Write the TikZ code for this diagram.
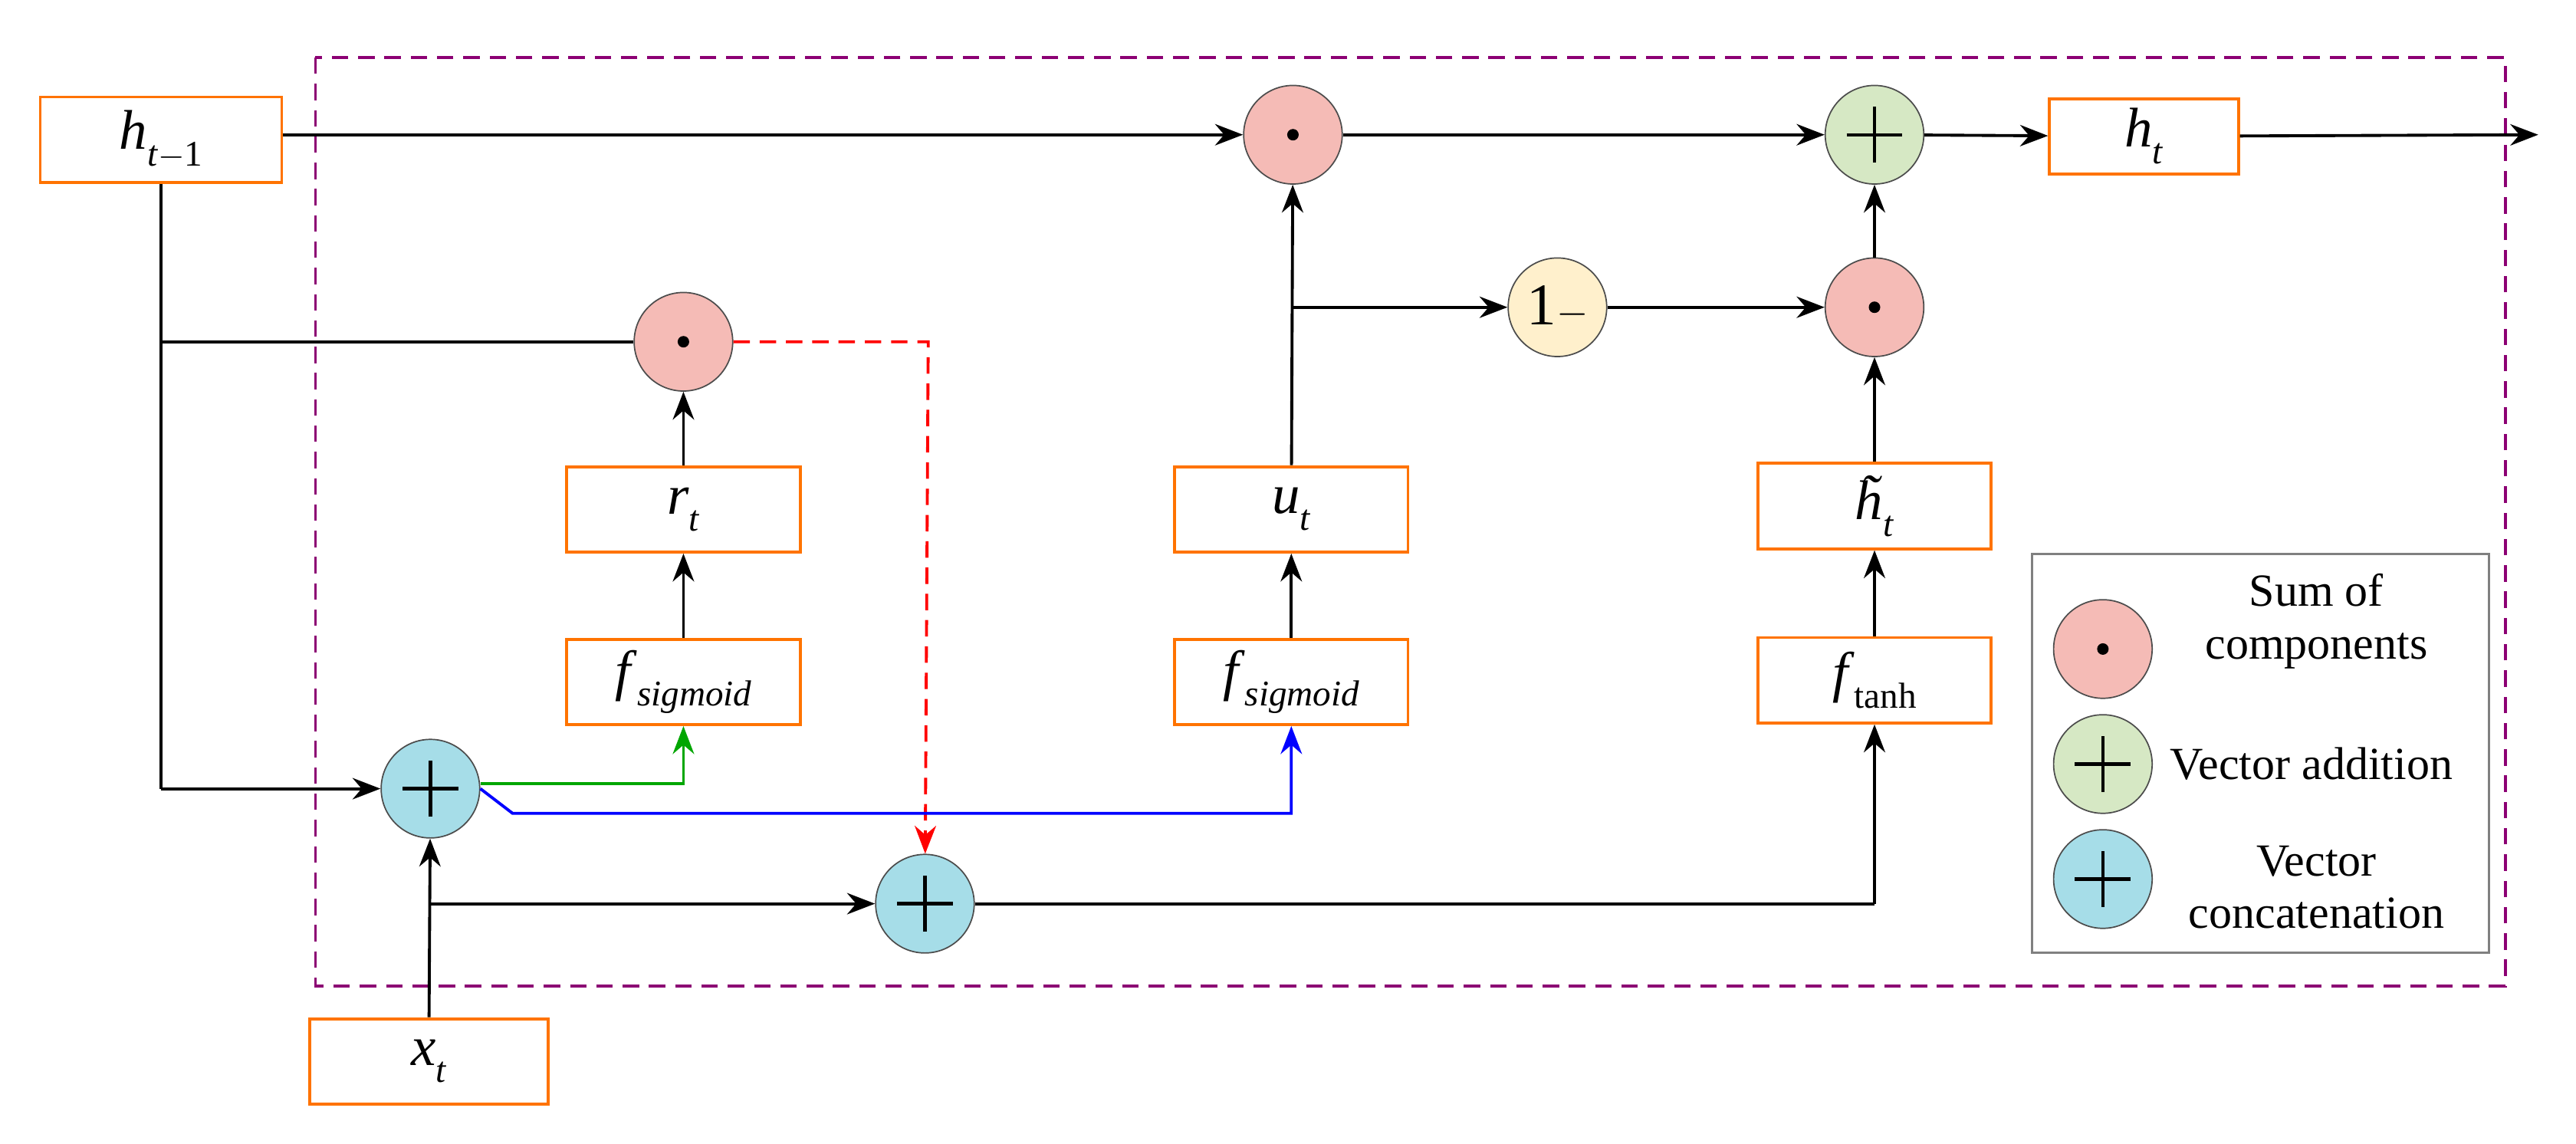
\documentclass[tikz,border=0pt]{standalone}
\usepackage{fontspec}
\setmainfont{Liberation Serif}
\usetikzlibrary{arrows.meta,positioning}
\definecolor{dotfill}{RGB}{245,187,182}
\definecolor{addfill}{RGB}{214,232,196}
\definecolor{catfill}{RGB}{166,221,232}
\definecolor{onefill}{RGB}{255,240,204}
\tikzset{
  box/.style={draw=orange!90!red,line width=1.8pt,minimum width=142pt,minimum height=52pt,inner sep=0pt,font=\fontsize{34}{38}\selectfont},
  op/.style={circle,draw=black!70,line width=0.8pt,minimum size=60pt,inner sep=0pt},
  dot/.style={op,fill=dotfill},
  add/.style={op,fill=addfill},
  cat/.style={op,fill=catfill},
  one/.style={op,fill=onefill,font=\fontsize{36}{40}\selectfont},
  ln/.style={line width=1.8pt},
  arr/.style={ln,-{Stealth[length=17pt,width=13pt]}},
  lg/.style={font=\fontsize{28}{32}\selectfont,align=center}
}
\newcommand{\dotmark}{\tikz\fill circle (3.5pt);}
\newcommand{\plusmark}{\tikz[line width=2pt]{\draw (-17pt,0)--(17pt,0) (0,-17pt)--(0,17pt);}}
\newcommand{\vsub}[2]{\textit{#1}\raisebox{-0.3em}{\fontsize{22}{24}\selectfont #2}}
\newcommand{\tildeh}{\textit{h}\llap{\raisebox{0.12em}{\textit{\char"02DC}}\hspace{0.08em}}}
\begin{document}
\begin{tikzpicture}[x=1pt,y=-1pt]
\useasboundingbox (0,0) rectangle (1568,696);
%frame
\draw[violet!80!purple,line width=1.8pt,dash pattern=on 10pt off 6pt] (192,35) rectangle (1525,600);
%boxes
\node[box,minimum width=147pt] (hprev) at (98,85) {\vsub{h}{\textit{t}$-$1}};
\node[box,minimum width=115pt,minimum height=46pt] (hout) at (1305,83) {\vsub{h}{\textit{t}}};
\node[box] (rt) at (416,310) {\vsub{r}{\textit{t}}};
\node[box] (ut) at (786,310) {\vsub{u}{\textit{t}}};
\node[box] (htil) at (1141,308) {\vsub{\tildeh}{\textit{t}}};
\node[box] (fs1) at (416,415) {\vsub{f}{\textit{sigmoid}}};
\node[box] (fs2) at (786,415) {\vsub{f}{\textit{sigmoid}}};
\node[box] (ftanh) at (1141,414) {\vsub{f}{tanh}};
\node[box,minimum width=145pt] (xt) at (261,646) {\vsub{x}{\textit{t}}};
%operators
\node[dot] (mtop) at (787,82) {\dotmark};
\node[add] (atop) at (1141,82) {\plusmark};
\node[dot] (mr) at (416,208) {\dotmark};
\node[one] (omin) at (948,187) {1$-$};
\node[dot] (mh) at (1141,187) {\dotmark};
\node[cat] (c1) at (262,480) {\plusmark};
\node[cat] (c2) at (563,550) {\plusmark};
%top row
\draw[arr] (hprev.east |- mtop) -- (mtop);
\draw[arr] (mtop) -- (atop);
\draw[arr] (atop) -- (hout);
\coordinate (out) at (1545,82);
\draw[arr] (hout) -- (out);
%reset branch
\coordinate (hdown) at (98,480);
\draw[ln] (hprev.south) -- (hdown);
\draw[arr] (hdown) -- (c1);
\draw[ln] (98,208) -- (mr);
\coordinate (rd) at (565,208);
\draw[ln,red,dash pattern=on 10pt off 6pt,-{Stealth[length=17pt,width=13pt]}] (mr) -- (rd) -- (c2);
\draw[arr] (fs1) -- (rt);
\draw[arr] (rt) -- (mr);
%input
\draw[arr] (xt) -- (c1);
\coordinate (xb) at (262,550);
\draw[arr] (xb) -- (c2);
\coordinate (c2r) at (1141,550);
\draw[ln] (c2) -- (c2r);
\draw[arr] (c2r) -- (ftanh);
%gates
\coordinate (gk) at (416,477);
\draw[ln,green!65!black,-{Stealth[length=17pt,width=13pt]}] (c1.east |- gk) -- (gk) -- (fs1);
\coordinate (bk1) at (312,495);
\coordinate (bk2) at (786,495);
\draw[ln,blue,-{Stealth[length=17pt,width=13pt]}] (c1.east) -- (bk1) -- (bk2) -- (fs2);
\draw[arr] (fs2) -- (ut);
\draw[arr] (ut) -- (mtop);
\coordinate (ub) at (787,187);
\draw[arr] (ub) -- (omin);
\draw[arr] (omin) -- (mh);
\draw[arr] (ftanh) -- (htil);
\draw[arr] (htil) -- (mh);
\draw[arr] (mh) -- (atop);
%legend
\draw[gray,line width=1.5pt] (1237,337) rectangle (1515,580);
\node[dot] (l1) at (1280,395) {\dotmark};
\node[add] (l2) at (1280,465) {\plusmark};
\node[cat] (l3) at (1280,535) {\plusmark};
\node[lg] (t1) at (1410,378) {Sum of\\components};
\node[lg] (t2) at (1407,465) {Vector addition};
\node[lg] (t3) at (1410,540) {Vector\\concatenation};
\end{tikzpicture}
\end{document}
